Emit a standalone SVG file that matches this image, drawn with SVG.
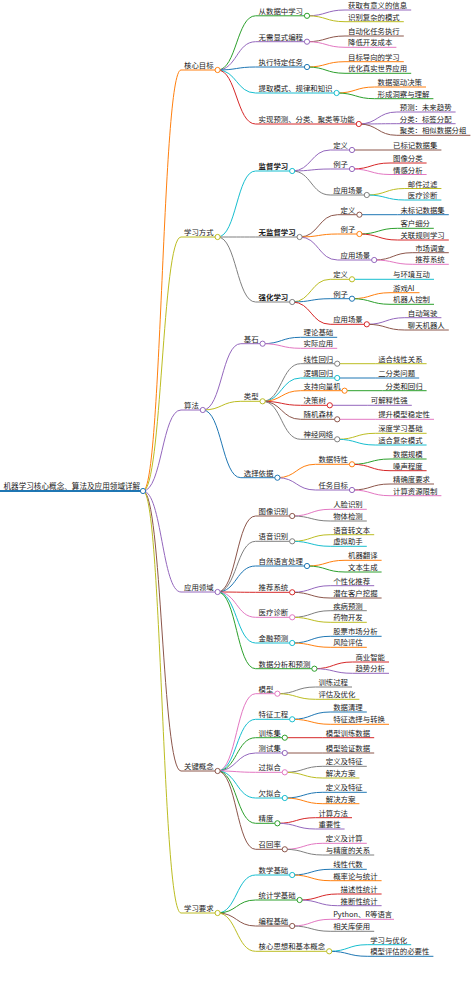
<svg xmlns="http://www.w3.org/2000/svg" width="474" height="985" viewBox="0 0 474 985">
<style>
rect.bg{fill:#fff}
path{fill:none;stroke-width:1}
line{stroke-width:1}
circle{fill:#fff;stroke-width:1}
text{font-family:"Noto Sans CJK SC","Noto Sans",sans-serif;font-size:7.4px;fill:#1a1a1a;stroke:none}
text.b{font-weight:bold}
text.r{font-size:7.6px}
.c0{stroke:#1f77b4}.c1{stroke:#ff7f0e}.c2{stroke:#2ca02c}.c3{stroke:#d62728}.c4{stroke:#9467bd}
.c5{stroke:#8c564b}.c6{stroke:#e377c2}.c7{stroke:#7f7f7f}.c8{stroke:#bcbd22}.c9{stroke:#17becf}
</style>
<rect class="bg" x="0" y="0" width="474" height="985"/>
<g id="connectors">
<path class="c1" d="M143,491C162,491 162,70 181,70"/>
<path class="c8" d="M143,491C162,491 162,237 181,237"/>
<path class="c4" d="M143,491C162,491 162,410 181,410"/>
<path class="c4" d="M143,491C162,491 162,592 181,592"/>
<path class="c5" d="M143,491C162,491 162,771 181,771"/>
<path class="c8" d="M143,491C162,491 162,913 181,913"/>
<path class="c2" d="M217.6,70C236.6,70 236.6,15.8 255.6,15.8"/>
<path class="c4" d="M217.6,70C236.6,70 236.6,41.7 255.6,41.7"/>
<path class="c0" d="M217.6,70C236.6,70 236.6,67 255.6,67"/>
<path class="c9" d="M217.6,70C236.6,70 236.6,93 255.6,93"/>
<path class="c3" d="M217.6,70C236.6,70 236.6,124 255.6,124"/>
<path class="c4" d="M307,15.8C326,15.8 326,10 345,10"/>
<path class="c8" d="M307,15.8C326,15.8 326,21.7 345,21.7"/>
<path class="c5" d="M307,41.7C326,41.7 326,36 345,36"/>
<path class="c6" d="M307,41.7C326,41.7 326,47.3 345,47.3"/>
<path class="c1" d="M307,67C326,67 326,61.7 345,61.7"/>
<path class="c2" d="M307,67C326,67 326,73.3 345,73.3"/>
<path class="c1" d="M336.6,93C355.6,93 355.6,87 374.6,87"/>
<path class="c2" d="M336.6,93C355.6,93 355.6,98.7 374.6,98.7"/>
<path class="c4" d="M358.8,124C377.8,124 377.8,112 396.8,112"/>
<path class="c4" d="M358.8,124C377.8,124 377.8,123.7 396.8,123.7"/>
<path class="c5" d="M358.8,124C377.8,124 377.8,135.3 396.8,135.3"/>
<path class="c9" d="M217.6,237C236.6,237 236.6,171 255.6,171"/>
<path class="c7" d="M217.6,237C236.6,237 236.6,237 255.6,237"/>
<path class="c7" d="M217.6,237C236.6,237 236.6,302 255.6,302"/>
<path class="c4" d="M292.2,171C311.2,171 311.2,150 330.2,150"/>
<path class="c4" d="M292.2,171C311.2,171 311.2,169 330.2,169"/>
<path class="c7" d="M292.2,171C311.2,171 311.2,195 330.2,195"/>
<path class="c5" d="M352,150L390,150"/>
<path class="c3" d="M352,169C371,169 371,163 390,163"/>
<path class="c6" d="M352,169C371,169 371,174.5 390,174.5"/>
<path class="c8" d="M366.8,195C385.8,195 385.8,188.5 404.8,188.5"/>
<path class="c9" d="M366.8,195C385.8,195 385.8,200 404.8,200"/>
<path class="c5" d="M299.6,237C318.6,237 318.6,214.7 337.6,214.7"/>
<path class="c1" d="M299.6,237C318.6,237 318.6,234 337.6,234"/>
<path class="c4" d="M299.6,237C318.6,237 318.6,260 337.6,260"/>
<path class="c0" d="M359.4,214.7L397.4,214.7"/>
<path class="c2" d="M359.4,234C378.4,234 378.4,228.3 397.4,228.3"/>
<path class="c3" d="M359.4,234C378.4,234 378.4,240 397.4,240"/>
<path class="c5" d="M374.2,260C393.2,260 393.2,252.7 412.2,252.7"/>
<path class="c6" d="M374.2,260C393.2,260 393.2,264.3 412.2,264.3"/>
<path class="c8" d="M292.2,302C311.2,302 311.2,279.3 330.2,279.3"/>
<path class="c0" d="M292.2,302C311.2,302 311.2,298.7 330.2,298.7"/>
<path class="c3" d="M292.2,302C311.2,302 311.2,324.3 330.2,324.3"/>
<path class="c9" d="M352,279.3L390,279.3"/>
<path class="c1" d="M352,298.7C371,298.7 371,292.7 390,292.7"/>
<path class="c2" d="M352,298.7C371,298.7 371,304.3 390,304.3"/>
<path class="c4" d="M366.8,324.3C385.8,324.3 385.8,317.7 404.8,317.7"/>
<path class="c5" d="M366.8,324.3C385.8,324.3 385.8,330 404.8,330"/>
<path class="c4" d="M202.8,410C221.8,410 221.8,343.7 240.8,343.7"/>
<path class="c8" d="M202.8,410C221.8,410 221.8,401.3 240.8,401.3"/>
<path class="c0" d="M202.8,410C221.8,410 221.8,477.7 240.8,477.7"/>
<path class="c0" d="M262.6,343.7C281.6,343.7 281.6,337.3 300.6,337.3"/>
<path class="c6" d="M262.6,343.7C281.6,343.7 281.6,348.3 300.6,348.3"/>
<path class="c7" d="M262.6,401.3C281.6,401.3 281.6,363.7 300.6,363.7"/>
<path class="c9" d="M262.6,401.3C281.6,401.3 281.6,378 300.6,378"/>
<path class="c1" d="M262.6,401.3C281.6,401.3 281.6,390.7 300.6,390.7"/>
<path class="c3" d="M262.6,401.3C281.6,401.3 281.6,405.3 300.6,405.3"/>
<path class="c5" d="M262.6,401.3C281.6,401.3 281.6,419.3 300.6,419.3"/>
<path class="c7" d="M262.6,401.3C281.6,401.3 281.6,439.3 300.6,439.3"/>
<path class="c8" d="M337.2,363.7L375.2,363.7"/>
<path class="c0" d="M337.2,378L375.2,378"/>
<path class="c2" d="M344.6,390.7L382.6,390.7"/>
<path class="c4" d="M329.8,405.3L367.8,405.3"/>
<path class="c6" d="M337.2,419.3L375.2,419.3"/>
<path class="c8" d="M337.2,439.3C356.2,439.3 356.2,433.3 375.2,433.3"/>
<path class="c9" d="M337.2,439.3C356.2,439.3 356.2,445 375.2,445"/>
<path class="c1" d="M277.4,477.7C296.4,477.7 296.4,464.3 315.4,464.3"/>
<path class="c4" d="M277.4,477.7C296.4,477.7 296.4,490 315.4,490"/>
<path class="c2" d="M352,464.3C371,464.3 371,459 390,459"/>
<path class="c3" d="M352,464.3C371,464.3 371,470.7 390,470.7"/>
<path class="c5" d="M352,490C371,490 371,484 390,484"/>
<path class="c6" d="M352,490C371,490 371,495.7 390,495.7"/>
<path class="c5" d="M217.6,592C236.6,592 236.6,516 255.6,516"/>
<path class="c7" d="M217.6,592C236.6,592 236.6,541.3 255.6,541.3"/>
<path class="c0" d="M217.6,592C236.6,592 236.6,566 255.6,566"/>
<path class="c3" d="M217.6,592C236.6,592 236.6,592.3 255.6,592.3"/>
<path class="c6" d="M217.6,592C236.6,592 236.6,617.3 255.6,617.3"/>
<path class="c9" d="M217.6,592C236.6,592 236.6,643 255.6,643"/>
<path class="c2" d="M217.6,592C236.6,592 236.6,668.7 255.6,668.7"/>
<path class="c6" d="M292.2,516C311.2,516 311.2,509.3 330.2,509.3"/>
<path class="c7" d="M292.2,516C311.2,516 311.2,521 330.2,521"/>
<path class="c8" d="M292.2,541.3C311.2,541.3 311.2,534.7 330.2,534.7"/>
<path class="c9" d="M292.2,541.3C311.2,541.3 311.2,546.3 330.2,546.3"/>
<path class="c1" d="M307,566C326,566 326,560.3 345,560.3"/>
<path class="c2" d="M307,566C326,566 326,572 345,572"/>
<path class="c4" d="M292.2,592.3C311.2,592.3 311.2,585.7 330.2,585.7"/>
<path class="c5" d="M292.2,592.3C311.2,592.3 311.2,598 330.2,598"/>
<path class="c7" d="M292.2,617.3C311.2,617.3 311.2,610.7 330.2,610.7"/>
<path class="c8" d="M292.2,617.3C311.2,617.3 311.2,622.3 330.2,622.3"/>
<path class="c0" d="M292.2,643C311.2,643 311.2,636.3 330.2,636.3"/>
<path class="c1" d="M292.2,643C311.2,643 311.2,647.3 330.2,647.3"/>
<path class="c3" d="M314.4,668.7C333.4,668.7 333.4,662 352.4,662"/>
<path class="c4" d="M314.4,668.7C333.4,668.7 333.4,673.3 352.4,673.3"/>
<path class="c6" d="M217.6,771C236.6,771 236.6,693.7 255.6,693.7"/>
<path class="c9" d="M217.6,771C236.6,771 236.6,719.3 255.6,719.3"/>
<path class="c2" d="M217.6,771C236.6,771 236.6,737.7 255.6,737.7"/>
<path class="c4" d="M217.6,771C236.6,771 236.6,753 255.6,753"/>
<path class="c6" d="M217.6,771C236.6,771 236.6,772.3 255.6,772.3"/>
<path class="c9" d="M217.6,771C236.6,771 236.6,798 255.6,798"/>
<path class="c2" d="M217.6,771C236.6,771 236.6,823.3 255.6,823.3"/>
<path class="c5" d="M217.6,771C236.6,771 236.6,849.3 255.6,849.3"/>
<path class="c7" d="M277.4,693.7C296.4,693.7 296.4,687 315.4,687"/>
<path class="c8" d="M277.4,693.7C296.4,693.7 296.4,699.3 315.4,699.3"/>
<path class="c0" d="M292.2,719.3C311.2,719.3 311.2,712 330.2,712"/>
<path class="c1" d="M292.2,719.3C311.2,719.3 311.2,724.3 330.2,724.3"/>
<path class="c3" d="M284.8,737.7L322.8,737.7"/>
<path class="c5" d="M284.8,753L322.8,753"/>
<path class="c7" d="M284.8,772.3C303.8,772.3 303.8,766.3 322.8,766.3"/>
<path class="c8" d="M284.8,772.3C303.8,772.3 303.8,778 322.8,778"/>
<path class="c0" d="M284.8,798C303.8,798 303.8,792.3 322.8,792.3"/>
<path class="c1" d="M284.8,798C303.8,798 303.8,803.7 322.8,803.7"/>
<path class="c3" d="M277.4,823.3C296.4,823.3 296.4,817.7 315.4,817.7"/>
<path class="c4" d="M277.4,823.3C296.4,823.3 296.4,829 315.4,829"/>
<path class="c6" d="M284.8,849.3C303.8,849.3 303.8,843.3 322.8,843.3"/>
<path class="c7" d="M284.8,849.3C303.8,849.3 303.8,855 322.8,855"/>
<path class="c9" d="M217.6,913C236.6,913 236.6,875 255.6,875"/>
<path class="c2" d="M217.6,913C236.6,913 236.6,900 255.6,900"/>
<path class="c5" d="M217.6,913C236.6,913 236.6,926 255.6,926"/>
<path class="c8" d="M217.6,913C236.6,913 236.6,951.3 255.6,951.3"/>
<path class="c0" d="M292.2,875C311.2,875 311.2,869.3 330.2,869.3"/>
<path class="c1" d="M292.2,875C311.2,875 311.2,880.7 330.2,880.7"/>
<path class="c3" d="M299.6,900C318.6,900 318.6,894 337.6,894"/>
<path class="c4" d="M299.6,900C318.6,900 318.6,905.7 337.6,905.7"/>
<path class="c6" d="M292.2,926C311.2,926 311.2,919.3 330.2,919.3"/>
<path class="c7" d="M292.2,926C311.2,926 311.2,931.3 330.2,931.3"/>
<path class="c9" d="M329.2,951.3C348.2,951.3 348.2,944.7 367.2,944.7"/>
<path class="c0" d="M329.2,951.3C348.2,951.3 348.2,956.3 367.2,956.3"/>
</g>

<g id="root" class="c0"><line x1="0" y1="491" x2="143" y2="491" style="stroke-width:2"/><circle cx="143" cy="491" r="2.6"/><text class="r" x="3.5" y="488.5">机器学习核心概念、算法及应用领域详解</text></g>

<g id="n-hxmb" class="c1"><line x1="181" y1="70" x2="217.6" y2="70"/><circle cx="217.6" cy="70" r="2.6"/><text x="184" y="68">核心目标</text></g>
<g id="n-a1" class="c2"><line x1="255.6" y1="15.8" x2="307" y2="15.8"/><circle cx="307" cy="15.8" r="2.6"/><text x="258.6" y="13.8">从数据中学习</text></g>
<g id="n-a1a" class="c4"><line x1="345" y1="10" x2="411.2" y2="10"/><text x="348" y="8">获取有意义的信息</text></g>
<g id="n-a1b" class="c8"><line x1="345" y1="21.7" x2="403.8" y2="21.7"/><text x="348" y="19.7">识别复杂的模式</text></g>
<g id="n-a2" class="c4"><line x1="255.6" y1="41.7" x2="307" y2="41.7"/><circle cx="307" cy="41.7" r="2.6"/><text x="258.6" y="39.7">无需显式编程</text></g>
<g id="n-a2a" class="c5"><line x1="345" y1="36" x2="403.8" y2="36"/><text x="348" y="34">自动化任务执行</text></g>
<g id="n-a2b" class="c6"><line x1="345" y1="47.3" x2="396.4" y2="47.3"/><text x="348" y="45.3">降低开发成本</text></g>
<g id="n-a3" class="c0"><line x1="255.6" y1="67" x2="307" y2="67"/><circle cx="307" cy="67" r="2.6"/><text x="258.6" y="65">执行特定任务</text></g>
<g id="n-a3a" class="c1"><line x1="345" y1="61.7" x2="403.8" y2="61.7"/><text x="348" y="59.7">目标导向的学习</text></g>
<g id="n-a3b" class="c2"><line x1="345" y1="73.3" x2="411.2" y2="73.3"/><text x="348" y="71.3">优化真实世界应用</text></g>
<g id="n-a4" class="c9"><line x1="255.6" y1="93" x2="336.6" y2="93"/><circle cx="336.6" cy="93" r="2.6"/><text x="258.6" y="91">提取模式、规律和知识</text></g>
<g id="n-a4a" class="c1"><line x1="374.6" y1="87" x2="426" y2="87"/><text x="377.6" y="85">数据驱动决策</text></g>
<g id="n-a4b" class="c2"><line x1="374.6" y1="98.7" x2="433.4" y2="98.7"/><text x="377.6" y="96.7">形成洞察与理解</text></g>
<g id="n-a5" class="c3"><line x1="255.6" y1="124" x2="358.8" y2="124"/><circle cx="358.8" cy="124" r="2.6"/><text x="258.6" y="122">实现预测、分类、聚类等功能</text></g>
<g id="n-a5a" class="c4"><line x1="396.8" y1="112" x2="455.6" y2="112"/><text x="399.8" y="110">预测：未来趋势</text></g>
<g id="n-a5b" class="c4"><line x1="396.8" y1="123.7" x2="455.6" y2="123.7"/><text x="399.8" y="121.7">分类：标签分配</text></g>
<g id="n-a5c" class="c5"><line x1="396.8" y1="135.3" x2="470.4" y2="135.3"/><text x="399.8" y="133.3">聚类：相似数据分组</text></g>

<g id="n-xxfs" class="c8"><line x1="181" y1="237" x2="217.6" y2="237"/><circle cx="217.6" cy="237" r="2.6"/><text x="184" y="235">学习方式</text></g>
<g id="n-b1" class="c9"><line x1="255.6" y1="171" x2="292.2" y2="171"/><circle cx="292.2" cy="171" r="2.6"/><text class="b" x="258.6" y="169">监督学习</text></g>
<g id="n-b1a" class="c4"><line x1="330.2" y1="150" x2="352" y2="150"/><circle cx="352" cy="150" r="2.6"/><text x="333.2" y="148">定义</text></g>
<g id="n-b1a1" class="c5"><line x1="390" y1="150" x2="441.4" y2="150"/><text x="393" y="148">已标记数据集</text></g>
<g id="n-b1b" class="c4"><line x1="330.2" y1="169" x2="352" y2="169"/><circle cx="352" cy="169" r="2.6"/><text x="333.2" y="167">例子</text></g>
<g id="n-b1b1" class="c3"><line x1="390" y1="163" x2="426.6" y2="163"/><text x="393" y="161">图像分类</text></g>
<g id="n-b1b2" class="c6"><line x1="390" y1="174.5" x2="426.6" y2="174.5"/><text x="393" y="172.5">情感分析</text></g>
<g id="n-b1c" class="c7"><line x1="330.2" y1="195" x2="366.8" y2="195"/><circle cx="366.8" cy="195" r="2.6"/><text x="333.2" y="193">应用场景</text></g>
<g id="n-b1c1" class="c8"><line x1="404.8" y1="188.5" x2="441.4" y2="188.5"/><text x="407.8" y="186.5">邮件过滤</text></g>
<g id="n-b1c2" class="c9"><line x1="404.8" y1="200" x2="441.4" y2="200"/><text x="407.8" y="198">医疗诊断</text></g>
<g id="n-b2" class="c7"><line x1="255.6" y1="237" x2="299.6" y2="237"/><circle cx="299.6" cy="237" r="2.6"/><text class="b" x="258.6" y="235">无监督学习</text></g>
<g id="n-b2a" class="c5"><line x1="337.6" y1="214.7" x2="359.4" y2="214.7"/><circle cx="359.4" cy="214.7" r="2.6"/><text x="340.6" y="212.7">定义</text></g>
<g id="n-b2a1" class="c0"><line x1="397.4" y1="214.7" x2="448.8" y2="214.7"/><text x="400.4" y="212.7">未标记数据集</text></g>
<g id="n-b2b" class="c1"><line x1="337.6" y1="234" x2="359.4" y2="234"/><circle cx="359.4" cy="234" r="2.6"/><text x="340.6" y="232">例子</text></g>
<g id="n-b2b1" class="c2"><line x1="397.4" y1="228.3" x2="433.8" y2="228.3"/><text x="400.4" y="226.3">客户细分</text></g>
<g id="n-b2b2" class="c3"><line x1="397.4" y1="240" x2="448.8" y2="240"/><text x="400.4" y="238">关联规则学习</text></g>
<g id="n-b2c" class="c4"><line x1="337.6" y1="260" x2="374.2" y2="260"/><circle cx="374.2" cy="260" r="2.6"/><text x="340.6" y="258">应用场景</text></g>
<g id="n-b2c1" class="c5"><line x1="412.2" y1="252.7" x2="448.8" y2="252.7"/><text x="415.2" y="250.7">市场调查</text></g>
<g id="n-b2c2" class="c6"><line x1="412.2" y1="264.3" x2="448.8" y2="264.3"/><text x="415.2" y="262.3">推荐系统</text></g>
<g id="n-b3" class="c7"><line x1="255.6" y1="302" x2="292.2" y2="302"/><circle cx="292.2" cy="302" r="2.6"/><text class="b" x="258.6" y="300">强化学习</text></g>
<g id="n-b3a" class="c8"><line x1="330.2" y1="279.3" x2="352" y2="279.3"/><circle cx="352" cy="279.3" r="2.6"/><text x="333.2" y="277.3">定义</text></g>
<g id="n-b3a1" class="c9"><line x1="390" y1="279.3" x2="434" y2="279.3"/><text x="393" y="277.3">与环境互动</text></g>
<g id="n-b3b" class="c0"><line x1="330.2" y1="298.7" x2="352" y2="298.7"/><circle cx="352" cy="298.7" r="2.6"/><text x="333.2" y="296.7">例子</text></g>
<g id="n-b3b1" class="c1"><line x1="390" y1="292.7" x2="419.5" y2="292.7"/><text x="393" y="290.7">游戏AI</text></g>
<g id="n-b3b2" class="c2"><line x1="390" y1="304.3" x2="434" y2="304.3"/><text x="393" y="302.3">机器人控制</text></g>
<g id="n-b3c" class="c3"><line x1="330.2" y1="324.3" x2="366.8" y2="324.3"/><circle cx="366.8" cy="324.3" r="2.6"/><text x="333.2" y="322.3">应用场景</text></g>
<g id="n-b3c1" class="c4"><line x1="404.8" y1="317.7" x2="441.4" y2="317.7"/><text x="407.8" y="315.7">自动驾驶</text></g>
<g id="n-b3c2" class="c5"><line x1="404.8" y1="330" x2="448.8" y2="330"/><text x="407.8" y="328">聊天机器人</text></g>

<g id="n-sf" class="c4"><line x1="181" y1="410" x2="202.8" y2="410"/><circle cx="202.8" cy="410" r="2.6"/><text x="184" y="408">算法</text></g>
<g id="n-c1" class="c4"><line x1="240.8" y1="343.7" x2="262.6" y2="343.7"/><circle cx="262.6" cy="343.7" r="2.6"/><text x="243.8" y="341.7">基石</text></g>
<g id="n-c1a" class="c0"><line x1="300.6" y1="337.3" x2="337.2" y2="337.3"/><text x="303.6" y="335.3">理论基础</text></g>
<g id="n-c1b" class="c6"><line x1="300.6" y1="348.3" x2="337.2" y2="348.3"/><text x="303.6" y="346.3">实际应用</text></g>
<g id="n-c2" class="c8"><line x1="240.8" y1="401.3" x2="262.6" y2="401.3"/><circle cx="262.6" cy="401.3" r="2.6"/><text x="243.8" y="399.3">类型</text></g>
<g id="n-c2a" class="c7"><line x1="300.6" y1="363.7" x2="337.2" y2="363.7"/><circle cx="337.2" cy="363.7" r="2.6"/><text x="303.6" y="361.7">线性回归</text></g>
<g id="n-c2a1" class="c8"><line x1="375.2" y1="363.7" x2="426.6" y2="363.7"/><text x="378.2" y="361.7">适合线性关系</text></g>
<g id="n-c2b" class="c9"><line x1="300.6" y1="378" x2="337.2" y2="378"/><circle cx="337.2" cy="378" r="2.6"/><text x="303.6" y="376">逻辑回归</text></g>
<g id="n-c2b1" class="c0"><line x1="375.2" y1="378" x2="419.2" y2="378"/><text x="378.2" y="376">二分类问题</text></g>
<g id="n-c2c" class="c1"><line x1="300.6" y1="390.7" x2="344.6" y2="390.7"/><circle cx="344.6" cy="390.7" r="2.6"/><text x="303.6" y="388.7">支持向量机</text></g>
<g id="n-c2c1" class="c2"><line x1="382.6" y1="390.7" x2="426.6" y2="390.7"/><text x="385.6" y="388.7">分类和回归</text></g>
<g id="n-c2d" class="c3"><line x1="300.6" y1="405.3" x2="329.8" y2="405.3"/><circle cx="329.8" cy="405.3" r="2.6"/><text x="303.6" y="403.3">决策树</text></g>
<g id="n-c2d1" class="c4"><line x1="367.8" y1="405.3" x2="411.8" y2="405.3"/><text x="370.8" y="403.3">可解释性强</text></g>
<g id="n-c2e" class="c5"><line x1="300.6" y1="419.3" x2="337.2" y2="419.3"/><circle cx="337.2" cy="419.3" r="2.6"/><text x="303.6" y="417.3">随机森林</text></g>
<g id="n-c2e1" class="c6"><line x1="375.2" y1="419.3" x2="434" y2="419.3"/><text x="378.2" y="417.3">提升模型稳定性</text></g>
<g id="n-c2f" class="c7"><line x1="300.6" y1="439.3" x2="337.2" y2="439.3"/><circle cx="337.2" cy="439.3" r="2.6"/><text x="303.6" y="437.3">神经网络</text></g>
<g id="n-c2f1" class="c8"><line x1="375.2" y1="433.3" x2="426.6" y2="433.3"/><text x="378.2" y="431.3">深度学习基础</text></g>
<g id="n-c2f2" class="c9"><line x1="375.2" y1="445" x2="426.6" y2="445"/><text x="378.2" y="443">适合复杂模式</text></g>
<g id="n-c3" class="c0"><line x1="240.8" y1="477.7" x2="277.4" y2="477.7"/><circle cx="277.4" cy="477.7" r="2.6"/><text x="243.8" y="475.7">选择依据</text></g>
<g id="n-c3a" class="c1"><line x1="315.4" y1="464.3" x2="352" y2="464.3"/><circle cx="352" cy="464.3" r="2.6"/><text x="318.4" y="462.3">数据特性</text></g>
<g id="n-c3a1" class="c2"><line x1="390" y1="459" x2="426.6" y2="459"/><text x="393" y="457">数据规模</text></g>
<g id="n-c3a2" class="c3"><line x1="390" y1="470.7" x2="426.6" y2="470.7"/><text x="393" y="468.7">噪声程度</text></g>
<g id="n-c3b" class="c4"><line x1="315.4" y1="490" x2="352" y2="490"/><circle cx="352" cy="490" r="2.6"/><text x="318.4" y="488">任务目标</text></g>
<g id="n-c3b1" class="c5"><line x1="390" y1="484" x2="434" y2="484"/><text x="393" y="482">精确度要求</text></g>
<g id="n-c3b2" class="c6"><line x1="390" y1="495.7" x2="441.4" y2="495.7"/><text x="393" y="493.7">计算资源限制</text></g>

<g id="n-yyly" class="c4"><line x1="181" y1="592" x2="217.6" y2="592"/><circle cx="217.6" cy="592" r="2.6"/><text x="184" y="590">应用领域</text></g>
<g id="n-d1" class="c5"><line x1="255.6" y1="516" x2="292.2" y2="516"/><circle cx="292.2" cy="516" r="2.6"/><text x="258.6" y="514">图像识别</text></g>
<g id="n-d1a" class="c6"><line x1="330.2" y1="509.3" x2="366.8" y2="509.3"/><text x="333.2" y="507.3">人脸识别</text></g>
<g id="n-d1b" class="c7"><line x1="330.2" y1="521" x2="366.8" y2="521"/><text x="333.2" y="519">物体检测</text></g>
<g id="n-d2" class="c7"><line x1="255.6" y1="541.3" x2="292.2" y2="541.3"/><circle cx="292.2" cy="541.3" r="2.6"/><text x="258.6" y="539.3">语音识别</text></g>
<g id="n-d2a" class="c8"><line x1="330.2" y1="534.7" x2="374.2" y2="534.7"/><text x="333.2" y="532.7">语音转文本</text></g>
<g id="n-d2b" class="c9"><line x1="330.2" y1="546.3" x2="366.8" y2="546.3"/><text x="333.2" y="544.3">虚拟助手</text></g>
<g id="n-d3" class="c0"><line x1="255.6" y1="566" x2="307" y2="566"/><circle cx="307" cy="566" r="2.6"/><text x="258.6" y="564">自然语言处理</text></g>
<g id="n-d3a" class="c1"><line x1="345" y1="560.3" x2="381.6" y2="560.3"/><text x="348" y="558.3">机器翻译</text></g>
<g id="n-d3b" class="c2"><line x1="345" y1="572" x2="381.6" y2="572"/><text x="348" y="570">文本生成</text></g>
<g id="n-d4" class="c3"><line x1="255.6" y1="592.3" x2="292.2" y2="592.3"/><circle cx="292.2" cy="592.3" r="2.6"/><text x="258.6" y="590.3">推荐系统</text></g>
<g id="n-d4a" class="c4"><line x1="330.2" y1="585.7" x2="374.2" y2="585.7"/><text x="333.2" y="583.7">个性化推荐</text></g>
<g id="n-d4b" class="c5"><line x1="330.2" y1="598" x2="381.6" y2="598"/><text x="333.2" y="596">潜在客户挖掘</text></g>
<g id="n-d5" class="c6"><line x1="255.6" y1="617.3" x2="292.2" y2="617.3"/><circle cx="292.2" cy="617.3" r="2.6"/><text x="258.6" y="615.3">医疗诊断</text></g>
<g id="n-d5a" class="c7"><line x1="330.2" y1="610.7" x2="366.8" y2="610.7"/><text x="333.2" y="608.7">疾病预测</text></g>
<g id="n-d5b" class="c8"><line x1="330.2" y1="622.3" x2="366.8" y2="622.3"/><text x="333.2" y="620.3">药物开发</text></g>
<g id="n-d6" class="c9"><line x1="255.6" y1="643" x2="292.2" y2="643"/><circle cx="292.2" cy="643" r="2.6"/><text x="258.6" y="641">金融预测</text></g>
<g id="n-d6a" class="c0"><line x1="330.2" y1="636.3" x2="381.6" y2="636.3"/><text x="333.2" y="634.3">股票市场分析</text></g>
<g id="n-d6b" class="c1"><line x1="330.2" y1="647.3" x2="366.8" y2="647.3"/><text x="333.2" y="645.3">风险评估</text></g>
<g id="n-d7" class="c2"><line x1="255.6" y1="668.7" x2="314.4" y2="668.7"/><circle cx="314.4" cy="668.7" r="2.6"/><text x="258.6" y="666.7">数据分析和预测</text></g>
<g id="n-d7a" class="c3"><line x1="352.4" y1="662" x2="389" y2="662"/><text x="355.4" y="660">商业智能</text></g>
<g id="n-d7b" class="c4"><line x1="352.4" y1="673.3" x2="389" y2="673.3"/><text x="355.4" y="671.3">趋势分析</text></g>

<g id="n-gjgn" class="c5"><line x1="181" y1="771" x2="217.6" y2="771"/><circle cx="217.6" cy="771" r="2.6"/><text x="184" y="769">关键概念</text></g>
<g id="n-e1" class="c6"><line x1="255.6" y1="693.7" x2="277.4" y2="693.7"/><circle cx="277.4" cy="693.7" r="2.6"/><text x="258.6" y="691.7">模型</text></g>
<g id="n-e1a" class="c7"><line x1="315.4" y1="687" x2="352" y2="687"/><text x="318.4" y="685">训练过程</text></g>
<g id="n-e1b" class="c8"><line x1="315.4" y1="699.3" x2="359.4" y2="699.3"/><text x="318.4" y="697.3">评估及优化</text></g>
<g id="n-e2" class="c9"><line x1="255.6" y1="719.3" x2="292.2" y2="719.3"/><circle cx="292.2" cy="719.3" r="2.6"/><text x="258.6" y="717.3">特征工程</text></g>
<g id="n-e2a" class="c0"><line x1="330.2" y1="712" x2="366.8" y2="712"/><text x="333.2" y="710">数据清理</text></g>
<g id="n-e2b" class="c1"><line x1="330.2" y1="724.3" x2="389" y2="724.3"/><text x="333.2" y="722.3">特征选择与转换</text></g>
<g id="n-e3" class="c2"><line x1="255.6" y1="737.7" x2="284.8" y2="737.7"/><circle cx="284.8" cy="737.7" r="2.6"/><text x="258.6" y="735.7">训练集</text></g>
<g id="n-e3a" class="c3"><line x1="322.8" y1="737.7" x2="374.2" y2="737.7"/><text x="325.8" y="735.7">模型训练数据</text></g>
<g id="n-e4" class="c4"><line x1="255.6" y1="753" x2="284.8" y2="753"/><circle cx="284.8" cy="753" r="2.6"/><text x="258.6" y="751">测试集</text></g>
<g id="n-e4a" class="c5"><line x1="322.8" y1="753" x2="374.2" y2="753"/><text x="325.8" y="751">模型验证数据</text></g>
<g id="n-e5" class="c6"><line x1="255.6" y1="772.3" x2="284.8" y2="772.3"/><circle cx="284.8" cy="772.3" r="2.6"/><text x="258.6" y="770.3">过拟合</text></g>
<g id="n-e5a" class="c7"><line x1="322.8" y1="766.3" x2="366.8" y2="766.3"/><text x="325.8" y="764.3">定义及特征</text></g>
<g id="n-e5b" class="c8"><line x1="322.8" y1="778" x2="359.4" y2="778"/><text x="325.8" y="776">解决方案</text></g>
<g id="n-e6" class="c9"><line x1="255.6" y1="798" x2="284.8" y2="798"/><circle cx="284.8" cy="798" r="2.6"/><text x="258.6" y="796">欠拟合</text></g>
<g id="n-e6a" class="c0"><line x1="322.8" y1="792.3" x2="366.8" y2="792.3"/><text x="325.8" y="790.3">定义及特征</text></g>
<g id="n-e6b" class="c1"><line x1="322.8" y1="803.7" x2="359.4" y2="803.7"/><text x="325.8" y="801.7">解决方案</text></g>
<g id="n-e7" class="c2"><line x1="255.6" y1="823.3" x2="277.4" y2="823.3"/><circle cx="277.4" cy="823.3" r="2.6"/><text x="258.6" y="821.3">精度</text></g>
<g id="n-e7a" class="c3"><line x1="315.4" y1="817.7" x2="352" y2="817.7"/><text x="318.4" y="815.7">计算方法</text></g>
<g id="n-e7b" class="c4"><line x1="315.4" y1="829" x2="344.6" y2="829"/><text x="318.4" y="827">重要性</text></g>
<g id="n-e8" class="c5"><line x1="255.6" y1="849.3" x2="284.8" y2="849.3"/><circle cx="284.8" cy="849.3" r="2.6"/><text x="258.6" y="847.3">召回率</text></g>
<g id="n-e8a" class="c6"><line x1="322.8" y1="843.3" x2="366.8" y2="843.3"/><text x="325.8" y="841.3">定义及计算</text></g>
<g id="n-e8b" class="c7"><line x1="322.8" y1="855" x2="374.2" y2="855"/><text x="325.8" y="853">与精度的关系</text></g>

<g id="n-xxyq" class="c8"><line x1="181" y1="913" x2="217.6" y2="913"/><circle cx="217.6" cy="913" r="2.6"/><text x="184" y="911">学习要求</text></g>
<g id="n-f1" class="c9"><line x1="255.6" y1="875" x2="292.2" y2="875"/><circle cx="292.2" cy="875" r="2.6"/><text x="258.6" y="873">数学基础</text></g>
<g id="n-f1a" class="c0"><line x1="330.2" y1="869.3" x2="366.8" y2="869.3"/><text x="333.2" y="867.3">线性代数</text></g>
<g id="n-f1b" class="c1"><line x1="330.2" y1="880.7" x2="381.6" y2="880.7"/><text x="333.2" y="878.7">概率论与统计</text></g>
<g id="n-f2" class="c2"><line x1="255.6" y1="900" x2="299.6" y2="900"/><circle cx="299.6" cy="900" r="2.6"/><text x="258.6" y="898">统计学基础</text></g>
<g id="n-f2a" class="c3"><line x1="337.6" y1="894" x2="381.6" y2="894"/><text x="340.6" y="892">描述性统计</text></g>
<g id="n-f2b" class="c4"><line x1="337.6" y1="905.7" x2="381.6" y2="905.7"/><text x="340.6" y="903.7">推断性统计</text></g>
<g id="n-f3" class="c5"><line x1="255.6" y1="926" x2="292.2" y2="926"/><circle cx="292.2" cy="926" r="2.6"/><text x="258.6" y="924">编程基础</text></g>
<g id="n-f3a" class="c6"><line x1="330.2" y1="919.3" x2="394" y2="919.3"/><text x="333.2" y="917.3">Python、R等语言</text></g>
<g id="n-f3b" class="c7"><line x1="330.2" y1="931.3" x2="374.2" y2="931.3"/><text x="333.2" y="929.3">相关库使用</text></g>
<g id="n-f4" class="c8"><line x1="255.6" y1="951.3" x2="329.2" y2="951.3"/><circle cx="329.2" cy="951.3" r="2.6"/><text x="258.6" y="949.3">核心思想和基本概念</text></g>
<g id="n-f4a" class="c9"><line x1="367.2" y1="944.7" x2="411.2" y2="944.7"/><text x="370.2" y="942.7">学习与优化</text></g>
<g id="n-f4b" class="c0"><line x1="367.2" y1="956.3" x2="433.4" y2="956.3"/><text x="370.2" y="954.3">模型评估的必要性</text></g>
</svg>
